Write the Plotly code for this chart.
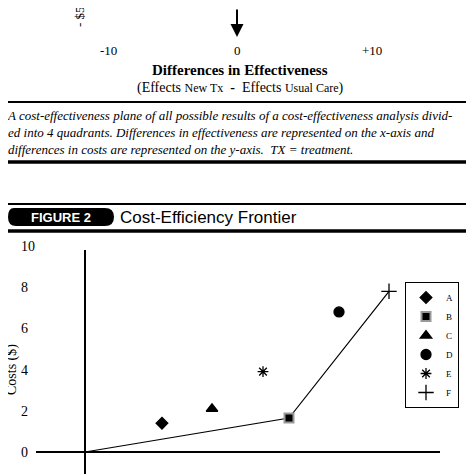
import plotly.graph_objects as go

# Figure 2 data (effectiveness in arbitrary units, costs in $)
labels = ["A", "B", "C", "D", "E", "F"]
effect = [7.7, 20.4, 12.7, 25.4, 17.8, 30.4]
costs = [1.4, 1.65, 2.1, 6.8, 3.9, 7.8]
symbols = ["diamond", "square", "triangle-up", "circle", "asterisk-open", "cross-thin-open"]
sizes = [9, 9, 10, 10, 9, 11]

frontier_x = [0, 20.4, 30.4]
frontier_y = [0, 1.65, 7.8]

y_ticks = [0, 2, 4, 6, 8, 10]
fig1_ticks = ["-10", "0", "+10"]
fig1_tick_px = [108, 237, 372]

caption = ("<i>A cost-effectiveness plane of all possible results of a cost-effectiveness analysis divid-<br>"
           "ed into 4 quadrants. Differences in effectiveness are represented on the x-axis and<br>"
           "differences in costs are represented on the y-axis.  TX = treatment.</i>")

W = H = 474
OFF = 8  # page margin shift
serif = "Liberation Serif"
sans = "Liberation Sans"


def px(p):
    return (p - OFF) / W


def py(p):
    return 1 - (p - OFF) / H


fig = go.Figure()

fig.add_trace(go.Scatter(x=frontier_x, y=frontier_y, mode="lines",
                         line=dict(color="black", width=1.2), showlegend=False, hoverinfo="skip"))

for lab, x, y, s, sz in zip(labels, effect, costs, symbols, sizes):
    line = dict(color="#999", width=2) if lab == "B" else dict(color="black", width=1.3)
    fig.add_trace(go.Scatter(x=[x], y=[y], mode="markers", name=lab,
                             marker=dict(symbol=s, size=sz, color="black", line=line)))


def hline(p, w):
    return dict(type="line", xref="paper", yref="paper", x0=px(2), x1=px(472),
                y0=py(p), y1=py(p), line=dict(color="black", width=w))


shapes = [
    dict(type="line", xref="x", yref="y", x0=0, x1=0, y0=-1.5, y1=9.8, line=dict(color="black", width=2)),
    dict(type="line", xref="x", yref="y", x0=-4.9, x1=35.5, y0=0, y1=0, line=dict(color="black", width=2)),
    hline(102, 2), hline(162, 3.5), hline(204, 2), hline(231, 3.5),
    dict(type="path", xref="paper", yref="paper", fillcolor="black", line=dict(width=0),
         path=f"M {px(14)},{py(208)} L {px(105)},{py(208)} Q {px(114)},{py(208)} {px(114)},{py(217)} "
              f"Q {px(114)},{py(226)} {px(105)},{py(226)} L {px(16)},{py(226)} Q {px(8)},{py(226)} {px(8)},{py(217)} "
              f"Q {px(8)},{py(208)} {px(14)},{py(208)} Z"),
]


def text(x, y, t, size, family=serif, color="black", xanchor="center", **kw):
    return dict(x=px(x), y=py(y), xref="paper", yref="paper", text=t, showarrow=False,
                xanchor=xanchor, yanchor="middle", font=dict(family=family, size=size, color=color), **kw)


ann = [
    dict(x=px(237), y=py(37), ax=0, ay=-45, xref="paper", yref="paper", showarrow=True,
         arrowhead=2, arrowsize=1.3, arrowwidth=2, arrowcolor="black", text=""),
    text(80, 14, "- $50", 13, textangle=-90),
    text(240, 70, "<b>Differences in Effectiveness</b>", 15),
    text(240, 88, "(Effects <span style='font-size:12px'>New Tx</span>  <b>-</b>  Effects <span style='font-size:12px'>Usual Care</span>)", 14),
    text(5, 132, caption, 13, xanchor="left", align="left"),
    text(61, 217, "<b>FIGURE 2</b>", 13, family=sans, color="white"),
    text(118, 218, "Cost-Efficiency Frontier", 17, family=sans, xanchor="left"),
    text(12, 370, "Costs ($)", 14, textangle=-90),
]
for t, p in zip(fig1_ticks, fig1_tick_px):
    ann.append(text(p, 50, t, 13))

fig.update_layout(
    width=W, height=H,
    margin=dict(l=0, r=0, t=0, b=0),
    paper_bgcolor="white", plot_bgcolor="white",
    xaxis=dict(range=[(OFF - 85) / 10, (W + OFF - 85) / 10], visible=False, fixedrange=True),
    yaxis=dict(range=[(452 - H - OFF) / 20.6, (452 - OFF) / 20.6], tickvals=y_ticks, ticklabelposition="inside",
               ticklabelstandoff=10, showgrid=False, zeroline=False, showline=False, ticks="",
               tickfont=dict(family=serif, size=14, color="black"), fixedrange=True),
    shapes=shapes, annotations=ann,
    legend=dict(x=px(405), y=py(282), xanchor="left", yanchor="top", bordercolor="black", borderwidth=1,
                bgcolor="white", itemwidth=30, font=dict(family=serif, size=9, color="black")),
    showlegend=True,
)

fig.write_html("out.html")
